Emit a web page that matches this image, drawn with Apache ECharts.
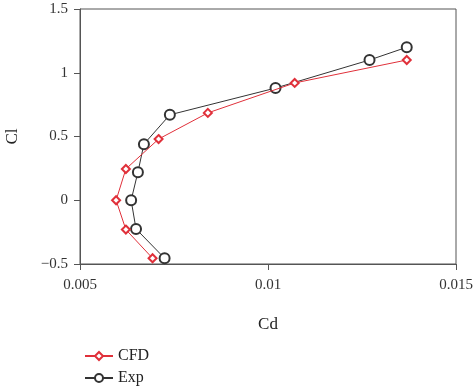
<!DOCTYPE html>
<html><head><meta charset="utf-8">
<script src="https://cdn.jsdelivr.net/npm/echarts@6/dist/echarts.min.js"></script>
<style>html,body{margin:0;padding:0;background:#fff}#c{width:474px;height:386px}</style>
</head><body><div id="c"></div>
<script>
const cfdCd = [0.01369, 0.01071, 0.00840, 0.00709, 0.00622, 0.00596, 0.00622, 0.00693];
const cfdCl = [1.10, 0.92, 0.685, 0.48, 0.245, 0.00, -0.23, -0.455];
const expCd = [0.01369, 0.01270, 0.01020, 0.00739, 0.00670, 0.00654, 0.00636, 0.00649, 0.00725];
const expCl = [1.20, 1.10, 0.88, 0.67, 0.44, 0.22, 0.00, -0.225, -0.455];
const xTicks = {0.005: '0.005', 0.01: '0.01', 0.015: '0.015'};
const yTicks = {'-0.5': '\u22120.5', '0': '0', '0.5': '0.5', '1': '1', '1.5': '1.5'};

const font = 'Liberation Serif';
const axisCol = '#555';
const red = '#e0303a', black = '#333';
const legendText = {fontFamily: font, fontSize: 16, color: '#222'};
const chart = echarts.init(document.getElementById('c'));
chart.setOption({
  animation: false,
  textStyle: {fontFamily: font},
  grid: {left: 80, right: 18, top: 9, bottom: 122, containLabel: false, outerBoundsMode: 'none',
    show: true, borderColor: axisCol, borderWidth: 1},
  legend: [
    {left: 79, top: 343, itemWidth: 28, itemHeight: 10, textStyle: legendText, data: ['CFD']},
    {left: 79, top: 365, itemWidth: 28, itemHeight: 10, textStyle: legendText, data: ['Exp']}
  ],
  xAxis: {
    type: 'value', min: 0.005, max: 0.015, interval: 0.005,
    name: 'Cd', nameLocation: 'middle', nameGap: 52,
    nameTextStyle: {fontFamily: font, fontSize: 17, color: '#222'},
    axisLine: {show: true, onZero: false, lineStyle: {color: axisCol}},
    axisTick: {show: true, length: 6, lineStyle: {color: axisCol}},
    axisLabel: {fontFamily: font, fontSize: 15, color: '#333', margin: 14,
      formatter: v => xTicks[Math.round(v * 1000) / 1000] || ''},
    splitLine: {show: false}
  },
  yAxis: {
    type: 'value', min: -0.5, max: 1.5, interval: 0.5,
    name: 'Cl', nameLocation: 'middle', nameGap: 59, nameRotate: 90,
    nameTextStyle: {fontFamily: font, fontSize: 17, color: '#222'},
    axisLine: {show: true, onZero: false, lineStyle: {color: axisCol}},
    axisTick: {show: true, length: 6, lineStyle: {color: axisCol}},
    axisLabel: {fontFamily: font, fontSize: 15, color: '#333', margin: 12,
      formatter: v => yTicks[String(Math.round(v * 10) / 10)] || ''},
    splitLine: {show: false}
  },
  series: [
    {name: 'CFD', type: 'line', data: cfdCd.map((x, i) => [x, cfdCl[i]]),
      symbol: 'emptyDiamond', symbolSize: 8, showAllSymbol: true,
      itemStyle: {color: red, borderColor: red, borderWidth: 1}, lineStyle: {color: red, width: 1}, z: 3},
    {name: 'Exp', type: 'line', data: expCd.map((x, i) => [x, expCl[i]]),
      symbol: 'emptyCircle', symbolSize: 10, showAllSymbol: true,
      itemStyle: {color: black, borderColor: black, borderWidth: 1}, lineStyle: {color: black, width: 1}, z: 2}
  ]
});
</script></body></html>
